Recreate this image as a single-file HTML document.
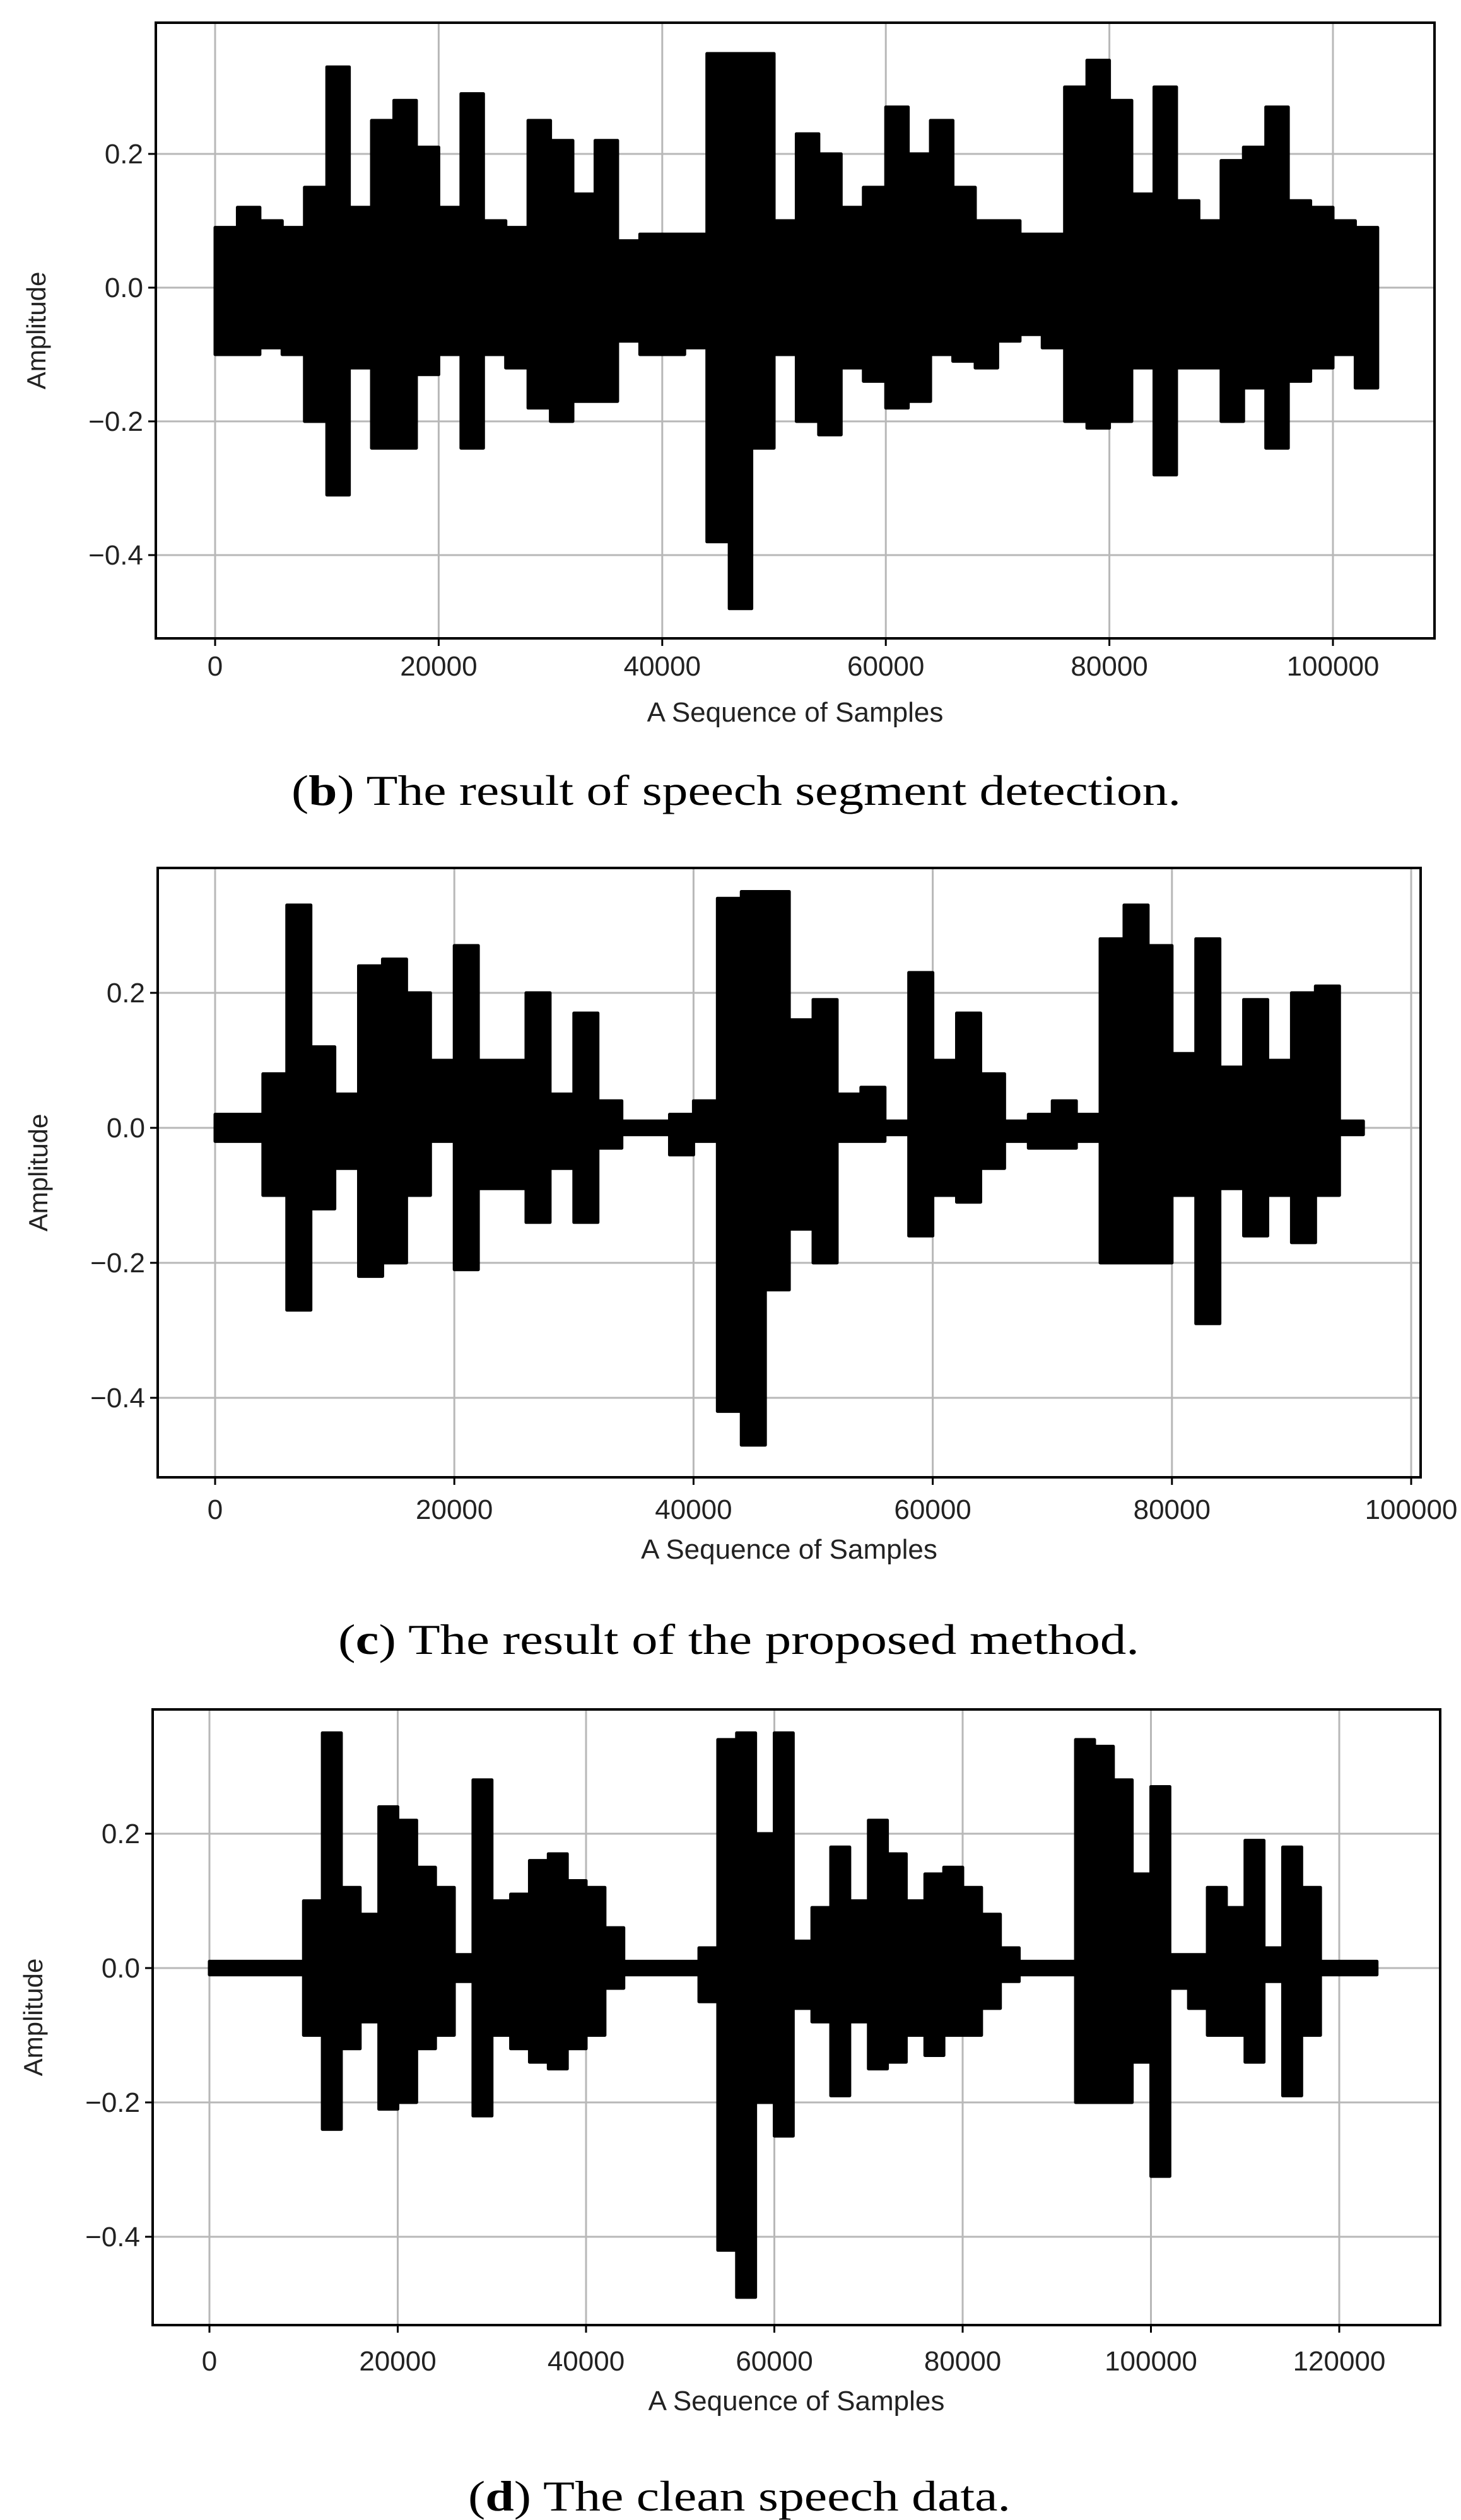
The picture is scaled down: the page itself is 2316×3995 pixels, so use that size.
<!DOCTYPE html>
<html><head><meta charset="utf-8"><style>html,body{margin:0;padding:0;background:#fff}svg{display:block}</style></head>
<body>
<svg id="fig" xmlns="http://www.w3.org/2000/svg" width="2316" height="3995" viewBox="0 0 2316 3995">
<rect width="2316" height="3995" fill="#fff"/>
</svg>
<script>
// Panel (b): speech segment detection, bins of 2000 samples
const bUpper=[0.09,0.12,0.1,0.09,0.15,0.33,0.12,0.25,0.28,0.21,0.12,0.29,0.1,0.09,0.25,0.22,0.14,0.22,0.07,0.08,0.08,0.08,0.35,0.35,0.35,0.1,0.23,0.2,0.12,0.15,0.27,0.2,0.25,0.15,0.1,0.1,0.08,0.08,0.3,0.34,0.28,0.14,0.3,0.13,0.1,0.19,0.21,0.27,0.13,0.12,0.1,0.09];
const bLower=[-0.1,-0.1,-0.09,-0.1,-0.2,-0.31,-0.12,-0.24,-0.24,-0.13,-0.1,-0.24,-0.1,-0.12,-0.18,-0.2,-0.17,-0.17,-0.08,-0.1,-0.1,-0.09,-0.38,-0.48,-0.24,-0.1,-0.2,-0.22,-0.12,-0.14,-0.18,-0.17,-0.1,-0.11,-0.12,-0.08,-0.07,-0.09,-0.2,-0.21,-0.2,-0.12,-0.28,-0.12,-0.12,-0.2,-0.15,-0.24,-0.14,-0.12,-0.1,-0.15];
// Panel (c): proposed method
const cUpper=[0.02,0.02,0.08,0.33,0.12,0.05,0.24,0.25,0.2,0.1,0.27,0.1,0.1,0.2,0.05,0.17,0.04,0.01,0.01,0.02,0.04,0.34,0.35,0.35,0.16,0.19,0.05,0.06,0.01,0.23,0.1,0.17,0.08,0.01,0.02,0.04,0.02,0.28,0.33,0.27,0.11,0.28,0.09,0.19,0.1,0.2,0.21,0.01];
const cLower=[-0.02,-0.02,-0.1,-0.27,-0.12,-0.06,-0.22,-0.2,-0.1,-0.02,-0.21,-0.09,-0.09,-0.14,-0.06,-0.14,-0.03,-0.01,-0.01,-0.04,-0.02,-0.42,-0.47,-0.24,-0.15,-0.2,-0.02,-0.02,-0.01,-0.16,-0.1,-0.11,-0.06,-0.02,-0.03,-0.03,-0.02,-0.2,-0.2,-0.2,-0.1,-0.29,-0.09,-0.16,-0.1,-0.17,-0.1,-0.01];
// Panel (d): clean speech
const dUpper=[0.01,0.01,0.01,0.01,0.01,0.1,0.35,0.12,0.08,0.24,0.22,0.15,0.12,0.02,0.28,0.1,0.11,0.16,0.17,0.13,0.12,0.06,0.01,0.01,0.01,0.01,0.03,0.34,0.35,0.2,0.35,0.04,0.09,0.18,0.1,0.22,0.17,0.1,0.14,0.15,0.12,0.08,0.03,0.01,0.01,0.01,0.34,0.33,0.28,0.14,0.27,0.02,0.02,0.12,0.09,0.19,0.03,0.18,0.12,0.01,0.01,0.01];
const dLower=[-0.01,-0.01,-0.01,-0.01,-0.01,-0.1,-0.24,-0.12,-0.08,-0.21,-0.2,-0.12,-0.1,-0.02,-0.22,-0.1,-0.12,-0.14,-0.15,-0.12,-0.1,-0.03,-0.01,-0.01,-0.01,-0.01,-0.05,-0.42,-0.49,-0.2,-0.25,-0.06,-0.08,-0.19,-0.08,-0.15,-0.14,-0.1,-0.13,-0.1,-0.1,-0.06,-0.02,-0.01,-0.01,-0.01,-0.2,-0.2,-0.2,-0.14,-0.31,-0.03,-0.06,-0.1,-0.1,-0.14,-0.02,-0.19,-0.1,-0.01,-0.01,-0.01];
const binSize=2000;
const yTicks=[0.2,0.0,-0.2,-0.4];
const yTickLabels=["0.2","0.0","\u22120.2","\u22120.4"];
const xTicksB=[0,20000,40000,60000,80000,100000];
const xTicksC=[0,20000,40000,60000,80000,100000];
const xTicksD=[0,20000,40000,60000,80000,100000,120000];

const NS="http://www.w3.org/2000/svg";
const svg=document.getElementById('fig');
function el(tag,attrs,parent){const e=document.createElementNS(NS,tag);for(const k in attrs)e.setAttribute(k,attrs[k]);(parent||svg).appendChild(e);return e;}

function panel(p){
  const g=el('g',{});
  
  
  const xs=v=>p.x0+v/20000*p.xStep;
  const ys=v=>p.y0-v/0.2*p.yStep;
  yTicks.forEach((t,i)=>{
    const gl=el('line',{x1:p.left,x2:p.right,y1:ys(t),y2:ys(t),stroke:'#b8b8b8','stroke-width':3},g);
    
    
    const tk=el('line',{x1:p.left-12,x2:p.left,y1:ys(t),y2:ys(t),stroke:'#000','stroke-width':3},g);
    
    
    const tl=el('text',{x:p.left-20,y:ys(t)+15,'text-anchor':'end','font-size':44,'font-family':'Liberation Sans, sans-serif',fill:'#222'},g);
    tl.textContent=yTickLabels[i];
    
    
  });
  p.xTicks.forEach(t=>{
    const gl=el('line',{x1:xs(t),x2:xs(t),y1:p.top,y2:p.bottom,stroke:'#b8b8b8','stroke-width':3},g);
    
    
    const tk=el('line',{x1:xs(t),x2:xs(t),y1:p.bottom,y2:p.bottom+12,stroke:'#000','stroke-width':3},g);
    
    
    const tl=el('text',{x:xs(t),y:p.tickY+16,'text-anchor':'middle','font-size':44,'font-family':'Liberation Sans, sans-serif',fill:'#222'},g);
    tl.textContent=String(t);
    
    
  });
  let pts=[];
  p.upper.forEach((v,i)=>{pts.push(xs(i*binSize)+','+ys(v));pts.push(xs((i+1)*binSize)+','+ys(v));});
  for(let i=p.lower.length-1;i>=0;i--){pts.push(xs((i+1)*binSize)+','+ys(p.lower[i]));pts.push(xs(i*binSize)+','+ys(p.lower[i]));}
  const wf=el('polygon',{points:pts.join(' '),fill:'#000',stroke:'#000','stroke-width':5,'stroke-linejoin':'round'},g);
  
  
  const n=p.upper.length*binSize;
  const zl=el('line',{x1:xs(0),x2:xs(n),y1:ys(0),y2:ys(0),stroke:'#000','stroke-width':8},g);
  
  
  const fr=el('rect',{x:p.left,y:p.top,width:p.right-p.left,height:p.bottom-p.top,fill:'none',stroke:'#000','stroke-width':4},g);
  
  
  const yl=el('text',{x:0,y:0,transform:`translate(${p.left-175},${(p.top+p.bottom)/2}) rotate(-90)`,'text-anchor':'middle','font-size':42,'font-family':'Liberation Sans, sans-serif',fill:'#222'},g);
  yl.textContent='Amplitude';
  
  
  const xl=el('text',{x:(p.left+p.right)/2,y:p.xlabY+15,'text-anchor':'middle','font-size':44,'font-family':'Liberation Sans, sans-serif',fill:'#222'},g);
  xl.textContent='A Sequence of Samples';
  
  
  const cap=el('text',{x:p.capX,y:p.capY+22,'font-size':68,'font-family':'Liberation Serif, serif',fill:'#000',textLength:p.capW,lengthAdjust:'spacingAndGlyphs'},g);
  
  
  const t1=el('tspan',{},cap);t1.textContent='(';
  const t2=el('tspan',{'font-weight':'bold'},cap);t2.textContent=p.letter;
  const t3=el('tspan',{},cap);t3.textContent=') '+p.caption;
}

panel({name:'panel-b',left:247,right:2274,top:36,bottom:1012,x0:341,xStep:354.4,y0:456,yStep:212,xTicks:xTicksB,upper:bUpper,lower:bLower,tickY:1055,xlabY:1129,capX:462,capY:1254,capW:1410,letter:'b',caption:'The result of speech segment detection.'});
panel({name:'panel-c',left:250,right:2252,top:1376,bottom:2342,x0:341,xStep:379.2,y0:1788,yStep:214,xTicks:xTicksC,upper:cUpper,lower:cLower,tickY:2392,xlabY:2456,capX:536,capY:2600,capW:1270,letter:'c',caption:'The result of the proposed method.'});
panel({name:'panel-d',left:242,right:2283,top:2710,bottom:3686,x0:332,xStep:298.5,y0:3120,yStep:213,xTicks:xTicksD,upper:dUpper,lower:dLower,tickY:3742,xlabY:3806,capX:742,capY:3958,capW:860,letter:'d',caption:'The clean speech data.'});
</script>
</body></html>
